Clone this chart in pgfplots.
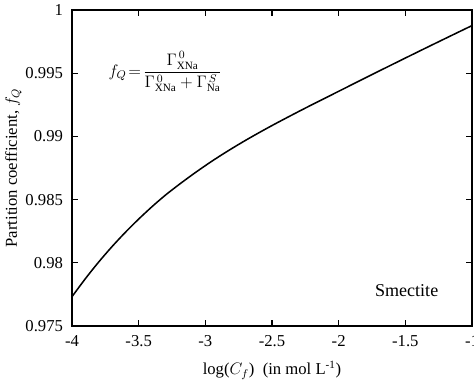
\documentclass[border=0pt]{standalone}
\usepackage{amsmath}
\usepackage{pgfplots}
\pgfplotsset{compat=1.18}
\usepackage{fontspec}
\setmainfont{Liberation Serif}
\begin{document}
\begin{tikzpicture}
\path[use as bounding box] (0pt,0pt) rectangle (341.28pt,275.76pt);
\begin{axis}[
  at={(51.84pt,41.04pt)}, anchor=south west,
  scale only axis, width=288pt, height=227.5pt,
  xmin=-4, xmax=-1, ymin=0.975, ymax=1,
  xtick={-4,-3.5,-3,-2.5,-2,-1.5,-1},
  xticklabels={-4,-3.5,-3,-2.5,-2,-1.5,-1},
  ytick={0.975,0.98,0.985,0.99,0.995,1},
  yticklabels={0.975,0.98,0.985,0.99,0.995,1},
  tick align=inside, tick pos=both,
  major tick length=4pt,
  axis line style={line width=1.3pt},
  every tick/.style={black, line width=0.8pt},
  tick label style={font=\fontsize{12}{14}\selectfont},
  xticklabel style={yshift=-3pt},
  yticklabel style={xshift=-3pt},
  xlabel={log($C_f$)\ \ (in mol L$^{\text{-1}}$)},
  ylabel={Partition coefficient, $f_Q$},
  label style={font=\fontsize{12}{14}\selectfont},
  xlabel style={yshift=-4pt},
  ylabel style={yshift=-4pt},
  clip=false,
]
\addplot[black, line width=1.1pt, smooth] coordinates {
(-4.0,0.97732) (-3.9,0.97874) (-3.8,0.98006) (-3.7,0.98128) (-3.6,0.98241)
(-3.5,0.98346) (-3.4,0.98444) (-3.3,0.98535) (-3.2,0.98617) (-3.1,0.98695)
(-3.0,0.98769) (-2.9,0.98839) (-2.8,0.98905) (-2.7,0.98968) (-2.6,0.99028)
(-2.5,0.99086) (-2.4,0.99142) (-2.3,0.99197) (-2.2,0.99251) (-2.1,0.99304)
(-2.0,0.99357) (-1.8,0.99463) (-1.6,0.99568) (-1.4,0.99672) (-1.2,0.99775)
(-1.0,0.99877)
};
\node[font=\fontsize{12}{14}\selectfont] at (axis cs:-3.30,0.9951)
  {$f_Q\!=\!\dfrac{\Gamma^{\,0}_{\mathrm{XNa}}}{\Gamma^{\,0}_{\mathrm{XNa}}+\Gamma^{\,S}_{\mathrm{Na}}}$};
\node[font=\fontsize{13}{15}\selectfont] at (axis cs:-1.49,0.9778) {Smectite};
\end{axis}
\end{tikzpicture}
\end{document}
